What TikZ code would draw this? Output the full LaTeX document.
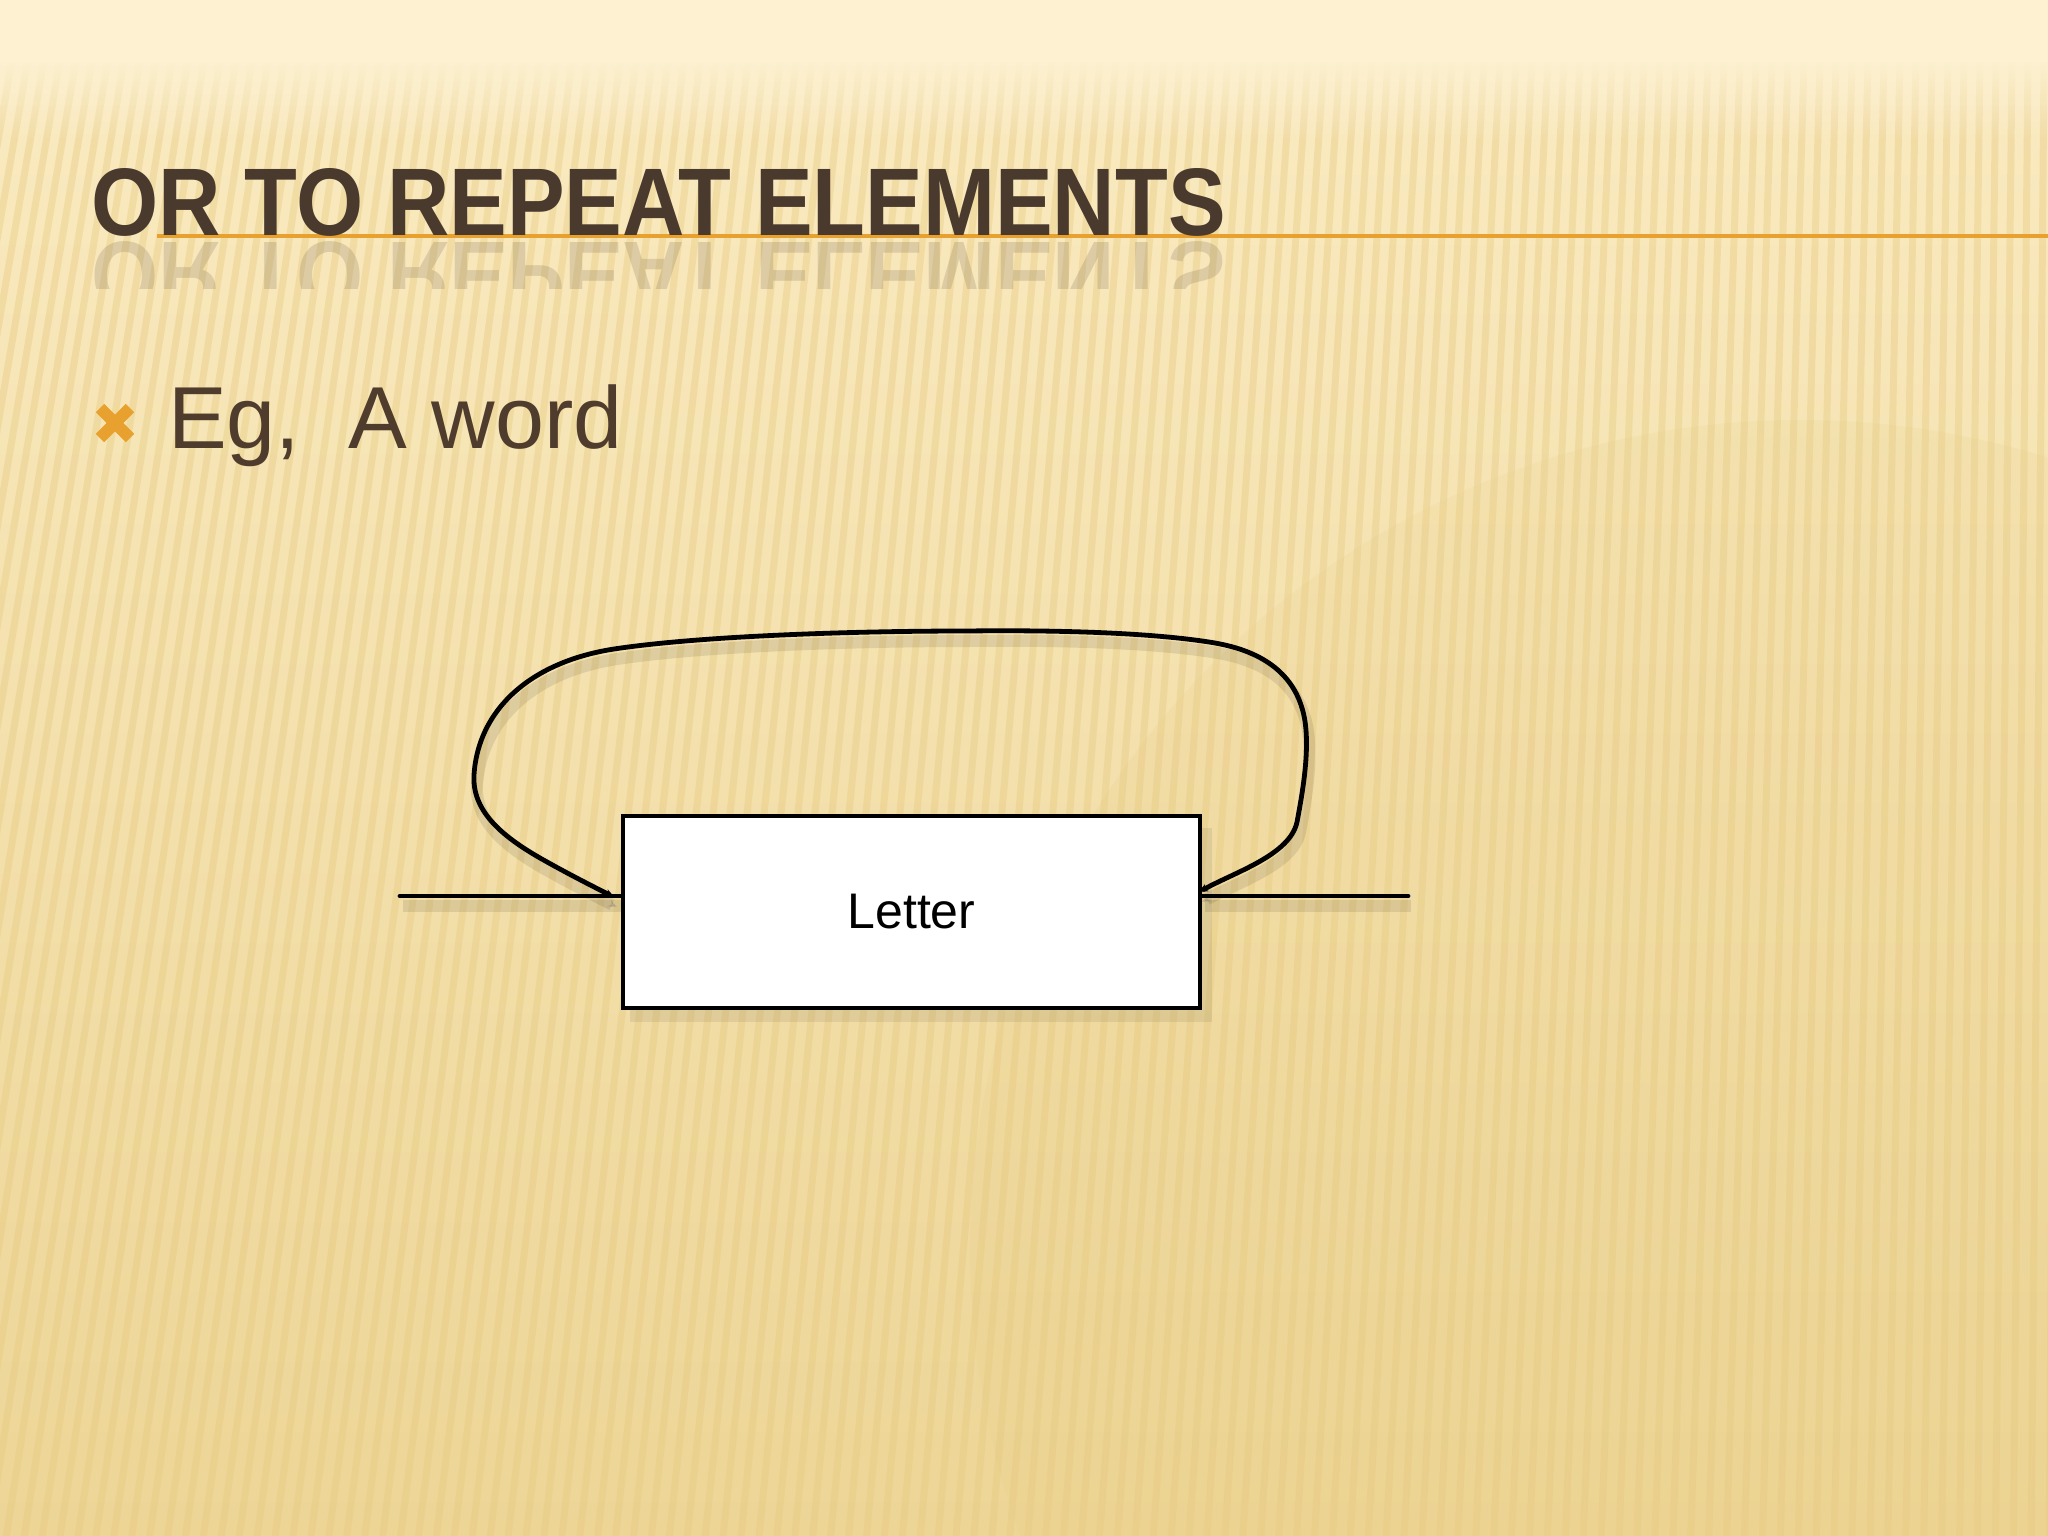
\documentclass[tikz,border=0pt]{standalone}
\usepackage{fontspec}
\setmainfont{Liberation Sans}
\usetikzlibrary{arrows.meta,calc}
\definecolor{bgtop}{HTML}{FDF1D2}
\definecolor{bgmid}{HTML}{FAEBC2}
\definecolor{bgbot}{HTML}{EDD596}
\definecolor{titlebrown}{HTML}{4A3A2E}
\definecolor{textbrown}{HTML}{4F3C2D}
\definecolor{accent}{HTML}{E8A12E}
\definecolor{stripe}{HTML}{E6C97E}
\tikzset{
  conn/.style={draw=black, line width=4.8pt, line cap=round, line join=round,
    preaction={draw, black, opacity=0.09, line width=12pt, transform canvas={shift={(3pt,-10pt)}}}},
  boxstyle/.style={draw=black, fill=white, line width=4.8pt, minimum width=577pt, minimum height=192pt, inner sep=0pt,
    font=\fontsize{50}{50}\selectfont, text=black},
  smalltip/.tip={Stealth[length=9pt,width=8pt]}
}
\begin{document}
\begin{tikzpicture}[x=1pt,y=-1pt]
\useasboundingbox (0,0) rectangle (2048,1536);
% background
\shade[top color=bgmid, bottom color=bgbot] (0,0) rectangle (2048,1536);
\fill[stripe, opacity=0.14] (1800,1250) circle (830);
\foreach \x in {-500,-484,...,2150} {
  \draw[stripe, line width=7pt, opacity=0.38] (\x,60) -- ({\x - 0.12*(2150-\x)},1536);
}
\fill[bgtop] (0,0) rectangle (2048,62);
\foreach \i in {0,...,19} {
  \fill[bgtop, opacity={0.9-0.045*\i}] (0,{62+4*\i}) rectangle (2048,{66+4*\i});
}
% title
\draw[accent, line width=3.5pt] (157,236) -- (2048,236);
\node[anchor=base west, inner sep=0pt, text=titlebrown, font=\fontsize{96}{96}\selectfont\bfseries] (title) at (91,235) {\scalebox{0.9}[1]{OR TO REPEAT ELEMENTS}};
\begin{scope}
\clip (0,240) rectangle (2048,288);
\node[anchor=base west, inner sep=0pt, text=titlebrown, opacity=0.16, font=\fontsize{96}{96}\selectfont\bfseries] (titlerefl) at (91,242) {\scalebox{0.9}[-1]{OR TO REPEAT ELEMENTS}};
\end{scope}
% bullet
\draw[accent, line width=12pt] (100,408) -- (130,438) (100,438) -- (130,408);
\node[anchor=base west, inner sep=0pt, text=textbrown, font=\fontsize{88}{88}\selectfont] (eg) at (168,448) {Eg,\hspace{0.55em}A word};
% diagram
\fill[black, opacity=0.07] (630,828) rectangle (1212,1022);
\node[boxstyle] (letter) at (911.5,912) {Letter};
\coordinate (inStart) at (400,896);
\coordinate (outEnd) at (1408,896);
\coordinate (loopStart) at (1199,892);
\coordinate (loopEnd) at (614,897);
\draw[conn] (inStart) -- (inStart -| letter.west);
\draw[conn] (letter.east |- outEnd) -- (outEnd);
\draw[conn, smalltip-smalltip] (loopStart)
  .. controls (1235,872) and (1290,855) .. (1297,822)
  .. controls (1303,790) and (1312,740) .. (1302,708)
  .. controls (1290,668) and (1255,650) .. (1215,643)
  .. controls (1150,632) and (1050,630) .. (966,631)
  .. controls (850,631) and (700,636) .. (614,649)
  .. controls (530,662) and (478,710) .. (474,775)
  .. controls (472,810) and (500,835) .. (540,858)
  .. controls (570,875) and (600,890) .. (loopEnd);
\end{tikzpicture}
\end{document}
